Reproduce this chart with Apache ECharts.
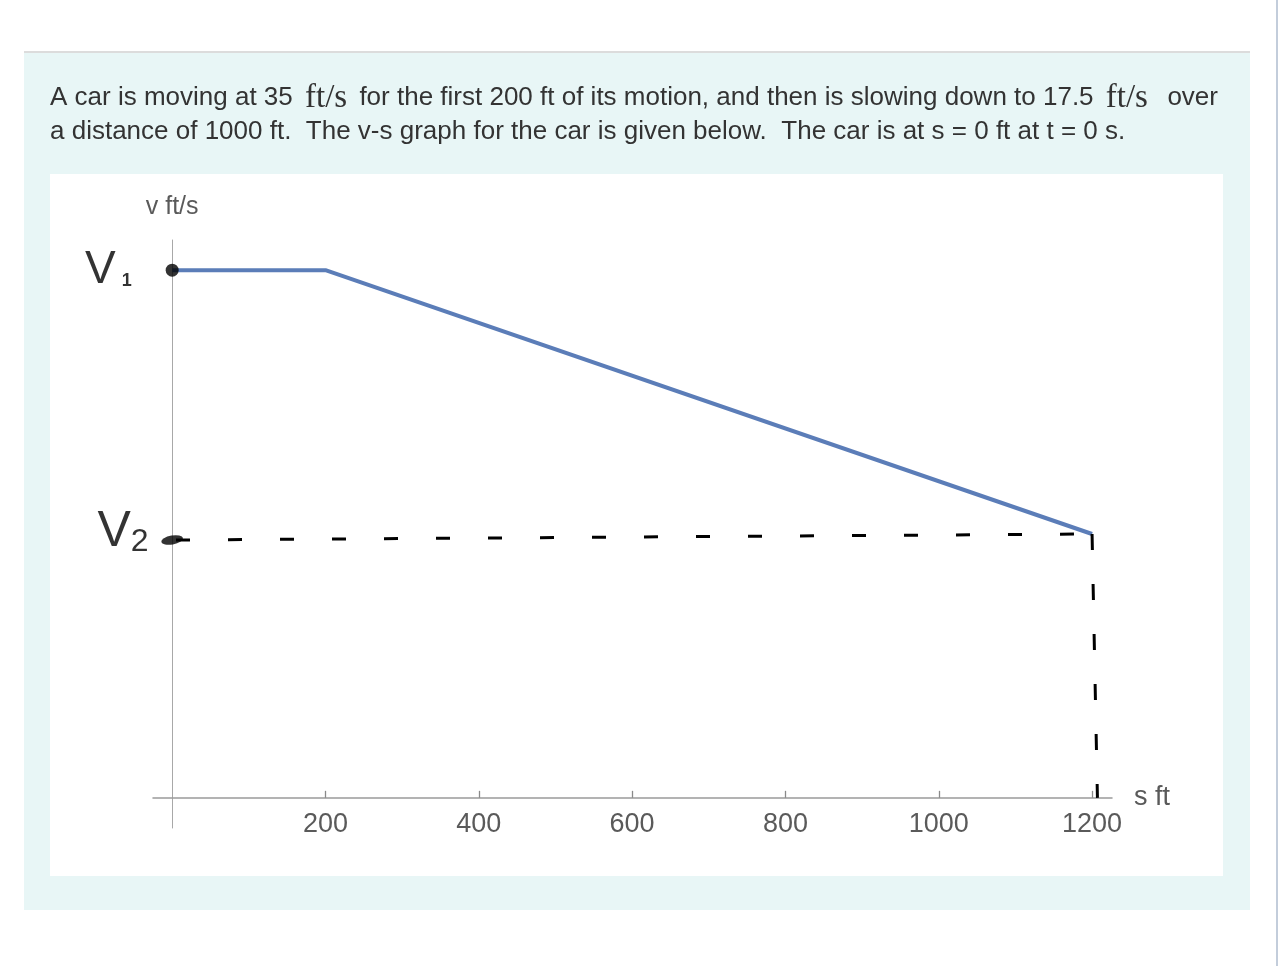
<!DOCTYPE html>
<html>
<head>
<meta charset="utf-8">
<script src="https://cdn.jsdelivr.net/npm/echarts@6/dist/echarts.min.js"></script>
<style>
html,body{margin:0;padding:0;background:#fff;}
#chart{width:1278px;height:966px;}
</style>
</head>
<body>
<div id="chart"></div>
<script>
// Data
const sValues = [0, 200, 1200];          // position s (ft)
const vValues = [35, 35, 17.5];          // velocity v (ft/s)
const xTickValues = [200, 400, 600, 800, 1000, 1200];
const hDashS = [5, 1200];                // hand-drawn horizontal guide
const hDashV = [17.1, 17.5];
const vDashS = [1200, 1207];             // hand-drawn vertical guide
const vDashV = [17.5, 0];
const v1Point = [0, 35];
const v2Point = [0, 17.1];

const chart = echarts.init(document.getElementById('chart'), null, {renderer: 'canvas'});

const sans = 'Liberation Sans, Arial, Helvetica, sans-serif';

const option = {
  backgroundColor: '#ffffff',
  animation: false,
  graphic: [
    {type: 'rect', z: -10, silent: true, shape: {x: 24, y: 52, width: 1226, height: 858}, style: {fill: '#e8f6f6'}},
    {type: 'rect', z: -9, silent: true, shape: {x: 24, y: 51, width: 1226, height: 2}, style: {fill: '#dcdcdc'}},
    {type: 'rect', z: -9, silent: true, shape: {x: 50, y: 174, width: 1173, height: 702}, style: {fill: '#ffffff'}},
    {type: 'rect', z: -9, silent: true, shape: {x: 1276, y: 0, width: 2, height: 966}, style: {fill: '#c3cddb'}}
  ],
  title: {
    left: 50,
    top: 81,
    padding: 0,
    text: '{a|A car is moving at 35 }{m|ft/s}{a| for the first 200 ft of its motion, and then is slowing down to 17.5 }{m|ft/s}{a|  over}\n{a|a distance of 1000 ft.  The v-s graph for the car is given below.  The car is at s = 0 ft at t = 0 s.}',
    textStyle: {
      fontWeight: 'normal',
      rich: {
        a: {fontFamily: sans, fontSize: 26, fontWeight: 'normal', color: '#333', lineHeight: 34},
        m: {fontFamily: 'Liberation Serif, Times New Roman, serif', fontSize: 33, fontWeight: 'normal', color: '#333', lineHeight: 34, padding: [0, 5, 0, 5]}
      }
    }
  },
  grid: {left: 153, right: 166, top: 240, bottom: 138},
  xAxis: {
    type: 'value',
    min: -25,
    max: 1226,
    axisLine: {show: true, onZero: true, lineStyle: {color: '#9a9a9a', width: 1.5}},
    axisTick: {show: true, inside: true, length: 7, customValues: xTickValues, lineStyle: {color: '#8a8a8a', width: 1.3}},
    axisLabel: {show: true, customValues: xTickValues, formatter: v => String(v), fontFamily: sans, fontSize: 27, color: '#5a5a5a', margin: -17},
    splitLine: {show: false},
    name: 's ft',
    nameLocation: 'end',
    nameGap: 22,
    nameTextStyle: {fontFamily: sans, fontSize: 27, color: '#5a5a5a'}
  },
  yAxis: {
    type: 'value',
    min: -2,
    max: 37,
    axisLine: {show: true, onZero: true, lineStyle: {color: '#a8a8a8', width: 1}},
    axisTick: {show: false},
    axisLabel: {show: false},
    splitLine: {show: false},
    name: 'v ft/s',
    nameLocation: 'end',
    nameGap: 20,
    nameTextStyle: {fontFamily: sans, fontSize: 25, color: '#5a5a5a'}
  },
  series: [
    {
      type: 'line',
      data: sValues.map((s, i) => [s, vValues[i]]),
      showSymbol: false,
      lineStyle: {color: '#5b7db8', width: 4},
      z: 3
    },
    {
      type: 'line',
      data: hDashS.map((s, i) => [s, hDashV[i]]),
      showSymbol: false,
      lineStyle: {color: '#000', width: 3, type: [14, 38]},
      z: 4
    },
    {
      type: 'line',
      data: vDashS.map((s, i) => [s, vDashV[i]]),
      showSymbol: false,
      lineStyle: {color: '#000', width: 3, type: [16, 34]},
      z: 4
    },
    {
      type: 'scatter',
      data: [v1Point],
      symbol: 'circle',
      symbolSize: 13,
      itemStyle: {color: '#000'},
      z: 5,
      label: {
        show: true,
        position: 'left',
        distance: 34,
        formatter: '{v|V}{s|1}',
        rich: {
          v: {fontFamily: sans, fontSize: 46, color: '#000', fontWeight: 'normal'},
          s: {fontFamily: sans, fontSize: 18, color: '#000', fontWeight: 'bold', padding: [22, 0, 0, 6]}
        }
      }
    },
    {
      type: 'scatter',
      data: [v2Point],
      symbol: 'circle',
      symbolSize: [22, 9],
      symbolRotate: 10,
      itemStyle: {color: '#000'},
      z: 5,
      label: {
        show: true,
        position: 'left',
        distance: 12,
        offset: [0, -8],
        formatter: '{v|V}{s|2}',
        rich: {
          v: {fontFamily: sans, fontSize: 50, color: '#000'},
          s: {fontFamily: sans, fontSize: 32, color: '#000', padding: [20, 0, 0, 0]}
        }
      }
    }
  ]
};

chart.setOption(option);
</script>
</body>
</html>
